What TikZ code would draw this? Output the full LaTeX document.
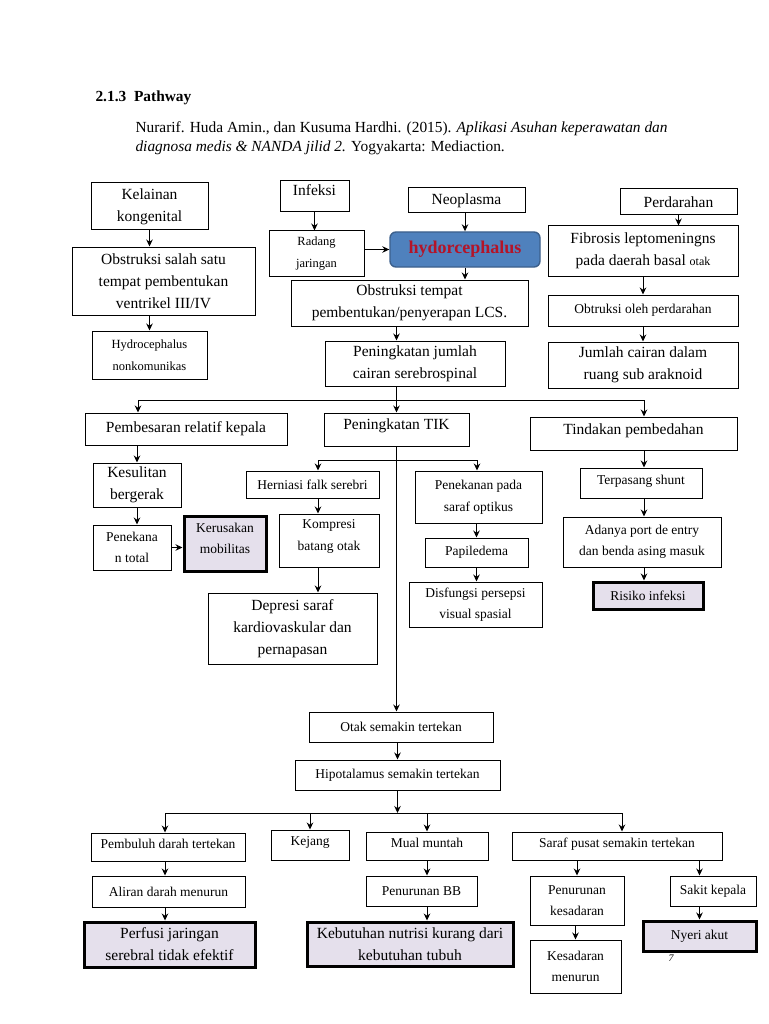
\documentclass[tikz,border=0pt]{standalone}
\usepackage{fontspec}
\usepackage{xcolor}
\usepackage{tikz}
\usetikzlibrary{shapes,arrows.meta,positioning,calc}
\setmainfont{Liberation Serif}

\definecolor{hydroblue}{RGB}{79,129,189}
\definecolor{hydroedge}{RGB}{60,96,140}
\definecolor{hydrored}{RGB}{180,20,40}
\definecolor{diaglav}{RGB}{229,224,236}

\newcommand{\bigtxt}{\fontsize{15.5}{22}\selectfont}
\newcommand{\midtxt}{\fontsize{13.5}{21.5}\selectfont}
\newcommand{\smalltxt}{\fontsize{12.5}{22}\selectfont}
\newcommand{\citetxt}{\fontsize{15.4}{19}\selectfont}

\begin{document}
\begin{tikzpicture}[
    x=1pt, y=-1pt,
    box/.style={rectangle, draw, line width=1pt, align=center, inner sep=1pt, font=\midtxt},
    bigbox/.style={box, font=\bigtxt},
    smallbox/.style={box, font=\smalltxt},
    diag/.style={line width=3pt, fill=diaglav},
    wh/.style 2 args={minimum width=#1pt, minimum height=#2pt},
    raised/.style={text depth=#1pt},
    arrow/.style={-{Stealth[length=7pt,width=6.5pt]}, line width=1pt},
    link/.style={line width=1pt}
]

\fill[white] (0,0) rectangle (768,1024);
\useasboundingbox (0,0) rectangle (768,1024);

% Heading and source
\node[anchor=base west, font=\citetxt\bfseries] (title) at (92,102) {2.1.3\ \ Pathway};
\node[anchor=base west, font=\citetxt] (cite1) at (132,133) {Nurarif. Huda Amin., dan Kusuma Hardhi. (2015). \textit{Aplikasi Asuhan keperawatan dan}};
\node[anchor=base west, font=\citetxt] (cite2) at (132,152) {\textit{diagnosa medis \& NANDA jilid 2.} Yogyakarta: Mediaction.};

% Causes
\node[bigbox, wh={117}{47}] (kelainan) at (149.5,206.5) {Kelainan\\kongenital};
\node[bigbox, wh={69}{31}, raised=13] (infeksi) at (314.5,196.5) {Infeksi};
\node[bigbox, wh={117}{25}] (neoplasma) at (466.5,200.5) {Neoplasma};
\node[bigbox, wh={117}{26}] (perdarahan) at (678.5,202) {Perdarahan};
\node[smallbox, wh={95}{45}] (radang) at (316.5,253.5) {Radang\\jaringan};
\node[rectangle, rounded corners=6pt, draw=hydroedge, line width=1.4pt, fill=hydroblue,
      text=hydrored, font=\fontsize{18}{20}\selectfont\bfseries, wh={150}{35}] (hydro) at (465,249.5) {hydorcephalus};
\node[bigbox, wh={190}{50}] (fibrosis) at (643,251) {Fibrosis leptomeningns\\pada daerah basal {\fontsize{12}{22}\selectfont otak}};
\node[bigbox, wh={183}{68}] (obsvent) at (163.5,281) {Obstruksi salah satu\\tempat pembentukan\\ventrikel III/IV};
\node[bigbox, wh={237}{46}] (obstempat) at (409.5,303) {Obstruksi tempat\\pembentukan/penyerapan LCS.};
\node[box, wh={190}{31}] (obtruksi) at (643,310.5) {Obtruksi oleh perdarahan};
\node[smallbox, wh={115}{48}] (hydronon) at (149.5,355) {Hydrocephalus\\nonkomunikas};
\node[bigbox, wh={180}{45}] (pjumlah) at (415,363.5) {Peningkatan jumlah\\cairan serebrospinal};
\node[bigbox, wh={190}{46}] (jcairan) at (643,365) {Jumlah cairan dalam\\ruang sub araknoid};

% Second level
\node[bigbox, wh={202}{32}] (pembesaran) at (186,429) {Pembesaran relatif kepala};
\node[bigbox, wh={145}{33}, raised=11] (tik) at (396.5,429.5) {Peningkatan TIK};
\node[bigbox, wh={207}{33}, raised=8] (tindakan) at (633.5,433.5) {Tindakan pembedahan};
\node[bigbox, wh={88}{44}] (kesulitan) at (137,485) {Kesulitan\\bergerak};
\node[box, wh={78}{45}] (pentotal) at (132,547.5) {Penekana\\n total};
\node[box, diag, wh={82}{55}, raised=10.5] (kerusakan) at (225,543.5) {Kerusakan\\mobilitas};
\node[box, wh={133}{27}] (herniasi) at (312.5,484.5) {Herniasi falk serebri};
\node[box, wh={100}{53}, raised=11] (kompresi) at (329,540.5) {Kompresi\\batang otak};
\node[bigbox, wh={169}{71}] (depresi) at (292.5,628.5) {Depresi saraf\\kardiovaskular dan\\pernapasan};
\node[box, wh={127}{52}] (penpada) at (478.5,497) {Penekanan pada\\saraf optikus};
\node[box, wh={103}{29}] (papiledema) at (476.5,552.5) {Papiledema};
\node[box, wh={133}{45}] (disfungsi) at (475.5,604.5) {Disfungsi persepsi\\visual spasial};
\node[box, wh={122}{30}, raised=7] (terpasang) at (641,483) {Terpasang shunt};
\node[box, wh={158}{50}] (adanya) at (642,542) {Adanya port de entry\\dan benda asing masuk};
\node[box, diag, wh={110}{27}] (risiko) at (648,595.5) {Risiko infeksi};

% Lower chain
\node[box, wh={184}{30}] (otak) at (401,727) {Otak semakin tertekan};
\node[box, wh={205}{30}] (hipotalamus) at (397.5,775) {Hipotalamus semakin tertekan};
\node[box, wh={154}{28}, raised=7] (pembuluh) at (168,847) {Pembuluh darah tertekan};
\node[box, wh={78}{30}, raised=8] (kejang) at (310,845) {Kejang};
\node[box, wh={122}{28}, raised=7] (mual) at (427,846) {Mual muntah};
\node[box, wh={210}{28}, raised=7] (sarafpusat) at (617,846) {Saraf pusat semakin tertekan};
\node[box, wh={153}{31}] (aliran) at (168.5,891.5) {Aliran darah menurun};
\node[box, wh={111}{30}] (penbb) at (421.5,891) {Penurunan BB};
\node[box, wh={94}{49}] (penkes) at (577,900.5) {Penurunan\\kesadaran};
\node[box, wh={86}{30}] (sakit) at (713,891) {Sakit kepala};
\node[bigbox, diag, wh={171}{45}] (perfusi) at (169.5,944.5) {Perfusi jaringan\\serebral tidak efektif};
\node[bigbox, diag, wh={206}{44}] (kebutuhan) at (410,944) {Kebutuhan nutrisi kurang dari\\kebutuhan tubuh};
\node[box, wh={91}{53}] (kesmenurun) at (575.5,966.5) {Kesadaran\\menurun};
\node[box, diag, wh={113}{30}] (nyeri) at (699.5,936) {Nyeri akut};
\node[font=\fontsize{10}{12}\selectfont\itshape] (pagenum) at (671,958) {7};

% Branch points
\coordinate (brL) at (138,400);
\coordinate (brR) at (644,400);
\coordinate (tikL) at (318,460);
\coordinate (tikR) at (477,460);
\coordinate (hipL) at (165,813);
\coordinate (hipR) at (622,813);

% Top connectors
\draw[arrow] (kelainan) -- (kelainan |- obsvent.north);
\draw[arrow] (obsvent.south -| hydronon) -- (hydronon.north);
\draw[arrow] (infeksi) -- (infeksi |- radang.north);
\draw[arrow] (radang.east |- hydro.west) -- (hydro.west);
\draw[arrow] (neoplasma.south -| hydro) -- (hydro.north);
\draw[arrow] (hydro.south) -- (hydro.south |- obstempat.north);
\draw[arrow] (tik |- obstempat.south) -- (tik |- pjumlah.north);
\draw[arrow] (perdarahan.south) -- (perdarahan.south |- fibrosis.north);
\draw[arrow] (fibrosis.south) -- (fibrosis.south |- obtruksi.north);
\draw[arrow] (obtruksi.south) -- (obtruksi.south |- jcairan.north);

% Split under cairan serebrospinal
\draw[arrow] (tik |- pjumlah.south) -- (tik.north);
\draw[link] (brL) -- (brR);
\draw[arrow] (brL) -- (brL |- pembesaran.north);
\draw[arrow] (brR) -- (brR |- tindakan.north);

% Left column
\draw[arrow] (kesulitan |- pembesaran.south) -- (kesulitan.north);
\draw[arrow] (kesulitan.south) -- (kesulitan.south |- pentotal.north);
\draw[arrow] (pentotal.east) -- (pentotal.east -| kerusakan.west);

% TIK branches
\draw[arrow] (tik.south) -- (tik.south |- otak.north);
\draw[link] (tikL) -- (tikR);
\draw[arrow] (tikL) -- (tikL |- herniasi.north);
\draw[arrow] (tikR) -- (tikR |- penpada.north);
\draw[arrow] (tikL |- herniasi.south) -- (tikL |- kompresi.north);
\draw[arrow] (tikL |- kompresi.south) -- (tikL |- depresi.north);
\draw[arrow] (papiledema |- penpada.south) -- (papiledema.north);
\draw[arrow] (papiledema.south) -- (papiledema |- disfungsi.north);

% Surgery column
\draw[arrow] (brR |- tindakan.south) -- (brR |- terpasang.north);
\draw[arrow] (brR |- terpasang.south) -- (brR |- adanya.north);
\draw[arrow] (brR |- adanya.south) -- (brR |- risiko.north);

% Lower chain
\draw[arrow] (hipotalamus |- otak.south) -- (hipotalamus.north);
\draw[arrow] (hipotalamus.south) -- (hipotalamus.south |- hipL);
\draw[link] (hipL) -- (hipR);
\draw[arrow] (hipL) -- (hipL |- pembuluh.north);
\draw[arrow] (kejang.north |- hipL) -- (kejang.north);
\draw[arrow] (mual.north |- hipL) -- (mual.north);
\draw[arrow] (hipR) -- (hipR |- sarafpusat.north);
\draw[arrow] (hipL |- pembuluh.south) -- (hipL |- aliran.north);
\draw[arrow] (hipL |- aliran.south) -- (hipL |- perfusi.north);
\draw[arrow] (mual.south) -- (mual |- penbb.north);
\draw[arrow] (mual |- penbb.south) -- (mual |- kebutuhan.north);
\draw[arrow] (penkes |- sarafpusat.south) -- (penkes.north);
\draw[arrow] (nyeri |- sarafpusat.south) -- (nyeri |- sakit.north);
\draw[arrow] (kesmenurun |- penkes.south) -- (kesmenurun.north);
\draw[arrow] (nyeri |- sakit.south) -- (nyeri.north);

\end{tikzpicture}
\end{document}
